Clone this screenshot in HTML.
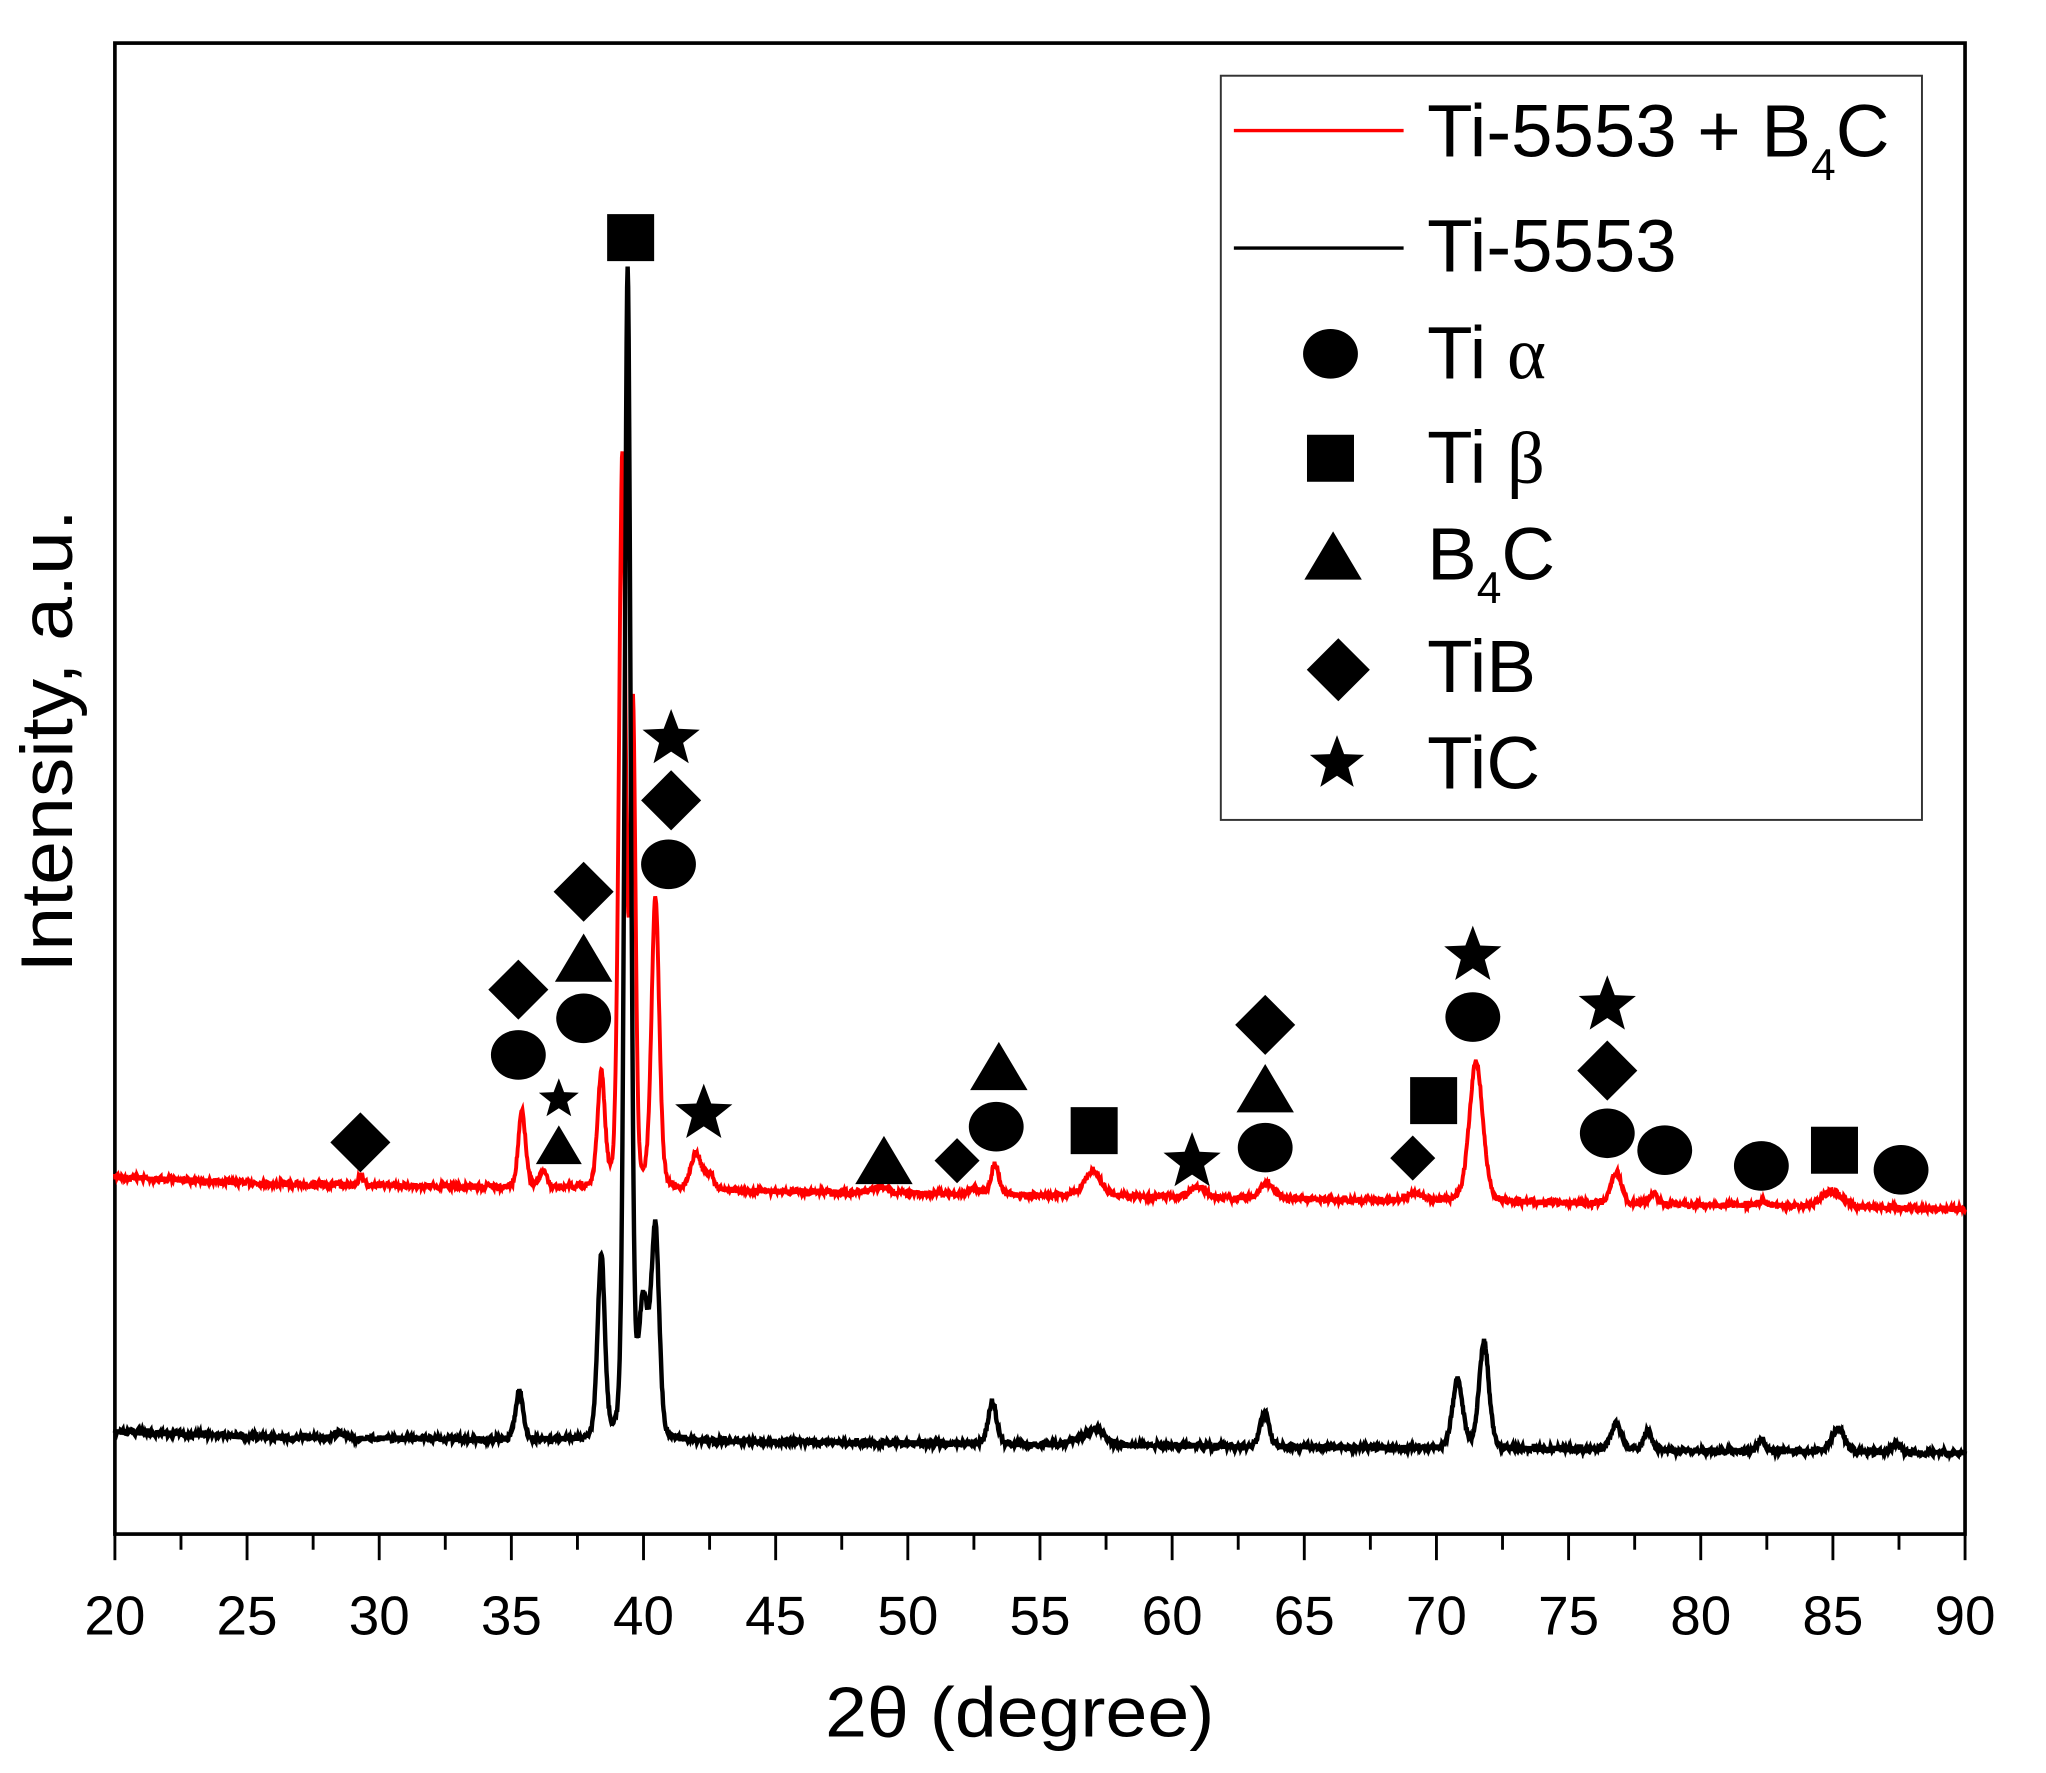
<!DOCTYPE html>
<html><head><meta charset="utf-8"><style>
html,body{margin:0;padding:0;background:#fff;}
svg{display:block;}
text{font-family:"Liberation Sans",sans-serif;}
</style></head><body>
<svg id="s" width="2046" height="1773" viewBox="0 0 1567 1358" preserveAspectRatio="none" xmlns="http://www.w3.org/2000/svg">
<rect x="88" y="33" width="1417" height="1142" fill="none" stroke="#000" stroke-width="2.8"/>
<g id="ticks" stroke="#000" stroke-width="2.2"></g>
<g id="labels" font-size="42" text-anchor="middle"></g>
<text x="632" y="1330" font-size="54" textLength="298" lengthAdjust="spacingAndGlyphs">2θ (degree)</text>
<text transform="translate(55,745) rotate(-90)" font-size="56" textLength="355" lengthAdjust="spacingAndGlyphs">Intensity, a.u.</text>
<path id="red" fill="none" stroke="#ff0000" stroke-width="3"/>
<path id="blk" fill="none" stroke="#000" stroke-width="3.4"/>
<g id="mk" fill="#000"></g>
<rect x="935" y="58" width="537" height="570" fill="#fff" stroke="#333" stroke-width="1.5"/>
<line x1="945" y1="100" x2="1075" y2="100" stroke="#f00" stroke-width="2.5"/>
<line x1="945" y1="190" x2="1075" y2="190" stroke="#000" stroke-width="2.5"/>
<g font-size="57">
<text x="1093" y="120">Ti-5553 + B<tspan font-size="34" dy="18">4</tspan><tspan dy="-18">C</tspan></text>
<text x="1093" y="208">Ti-5553</text>
<text x="1093" y="290">Ti <tspan font-family="Liberation Serif">α</tspan></text>
<text x="1093" y="370">Ti <tspan font-family="Liberation Serif">β</tspan></text>
<text x="1093" y="444">B<tspan font-size="34" dy="18">4</tspan><tspan dy="-18">C</tspan></text>
<text x="1093" y="530">TiB</text>
<text x="1093" y="604">TiC</text>
</g>
<g id="lg" fill="#000"></g>
</svg>
<script>
var NS="http://www.w3.org/2000/svg";
function X(d){return 88+(d-20)*20.243;}
var t=document.getElementById('ticks'),L=document.getElementById('labels');
for(var d=20;d<=90;d+=2.5){var maj=(d%5==0);var l=document.createElementNS(NS,'line');
l.setAttribute('x1',X(d));l.setAttribute('x2',X(d));l.setAttribute('y1',1175);l.setAttribute('y2',1175+(maj?20:12));t.appendChild(l);
if(maj){var tx=document.createElementNS(NS,'text');tx.setAttribute('x',X(d));tx.setAttribute('y',1252);tx.textContent=d;L.appendChild(tx);}}
var seed=7;function rnd(){seed=(seed*16807)%2147483647;return seed/2147483647;}
function curve(b0,b1,pk,id){var s='';for(var d=20;d<=90.001;d+=0.02){var y=b0+(d-20)/70*(b1-b0);
if(d<26)y-=(26-d)*0.6;
for(var i=0;i<pk.length;i++){var p=pk[i],z=(d-p[0])/p[2];y-=p[1]*(0.75*Math.exp(-0.5*z*z)+0.25/(1+z*z));}
y+=(rnd()-0.5)*4.5;s+=(s?'L':'M')+X(d).toFixed(1)+' '+y.toFixed(1);}
document.getElementById(id).setAttribute('d',s);}
curve(905,926,[[29.3,8,.1],[35.4,58,.14],[36.2,12,.14],[38.4,86,.14],[39.2,560,.13],[39.6,360,.1],[40.45,222,.15],[42.0,28,.2],[42.5,12,.15],[49,4,.3],[52.5,5,.2],[53.3,24,.15],[57.0,20,.32],[61,8,.3],[63.6,12,.25],[69.2,5,.3],[71.5,108,.26],[76.8,24,.2],[78.2,9,.15],[82.3,4,.2],[85,12,.4]],'red');
curve(1100,1113,[[28.5,4,.2],[35.3,37,.15],[38.4,140,.14],[39.4,895,.12],[40.0,100,.2],[40.45,155,.15],[53.2,33,.16],[56.8,8,.5],[57.2,8,.2],[63.5,26,.17],[70.8,52,.2],[71.8,82,.19],[76.8,20,.2],[78,16,.15],[82.3,8,.15],[85.2,18,.25],[87.4,7,.15]],'blk');
function add(g,el,a){var e=document.createElementNS(NS,el);for(var k in a)e.setAttribute(k,a[k]);document.getElementById(g).appendChild(e);}
function star(x,y,r){var p='';for(var i=0;i<10;i++){var rr=i%2?r*0.42:r,a=-Math.PI/2+i*Math.PI/5;p+=(i?'L':'M')+(x+rr*Math.cos(a)).toFixed(1)+' '+(y+rr*Math.sin(a)).toFixed(1);}return p+'Z';}
function M(g,type,x,y,s){s=s||1;
if(type=='c')add(g,'ellipse',{cx:x,cy:y,rx:21*s,ry:19*s});
else if(type=='s')add(g,'rect',{x:x-18*s,y:y-18*s,width:36*s,height:36*s});
else if(type=='t')add(g,'polygon',{points:(x)+','+(y-20*s)+' '+(x+22*s)+','+(y+17*s)+' '+(x-22*s)+','+(y+17*s)});
else if(type=='d')add(g,'polygon',{points:x+','+(y-23*s)+' '+(x+23*s)+','+y+' '+x+','+(y+23*s)+' '+(x-23*s)+','+y});
else if(type=='*')add(g,'path',{d:star(x,y,23*s)});}
var m=[['d',276,875],['c',397,808],['d',397,758],['*',428,842,.7],['t',428,878,.8],['c',447,780],['t',447,735],['d',447,683],['s',483,182],['c',512,662],['d',514,613],['*',514,566],['*',539,853],['t',677,890],['d',733,889,.75],['c',763,863],['t',765,818],['s',838,866],['*',913,890],['c',969,879],['t',969,835],['d',969,785],['d',1082,887,.75],['s',1098,843],['c',1128,779],['*',1128,732],['c',1231,868],['d',1231,820],['*',1231,770],['c',1275,881],['c',1349,893],['s',1405,881],['c',1456,896]];
m.forEach(function(a){M('mk',a[0],a[1],a[2],a[3]);});
M('lg','c',1019,271);M('lg','s',1019,351);M('lg','t',1021,427);M('lg','d',1025,513,1.05);M('lg','*',1024,585,.95);
</script>
</body></html>
